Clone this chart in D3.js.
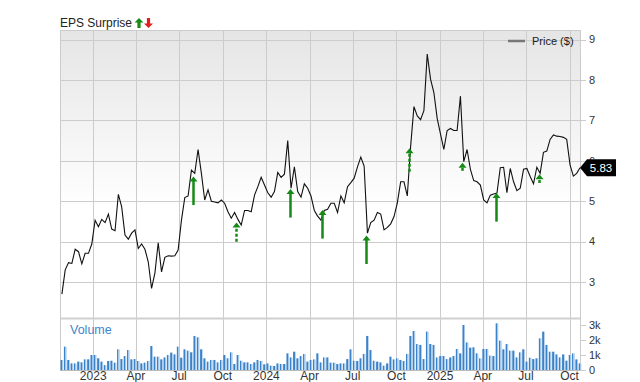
<!DOCTYPE html>
<html><head><meta charset="utf-8">
<script src="https://cdn.jsdelivr.net/npm/d3@7"></script>
<style>html,body{margin:0;padding:0;background:#fff}svg{display:block;font-family:"Liberation Sans",Arial,sans-serif}</style>
</head><body><svg id="c" width="640" height="382"></svg>
<script>
// ---- data ----
const startDate = "2022-10-27"; // first weekly observation
const prices = [
2.70,3.30,3.48,3.46,3.81,3.75,3.45,3.71,3.71,3.94,
4.53,4.37,4.55,4.47,4.68,4.31,4.27,5.17,4.86,4.16,
4.06,4.21,4.29,3.83,3.94,3.81,3.50,2.84,3.22,3.97,
3.25,3.61,3.65,3.64,3.65,3.79,4.53,5.09,5.13,5.77,
5.69,6.28,5.69,5.03,5.28,5.00,4.98,4.96,5.03,4.95,
4.74,4.58,
4.72,4.55,4.41,4.77,4.77,4.74,5.15,5.36,5.59,5.40,
5.21,5.10,5.24,5.71,5.59,5.67,6.50,5.32,5.85,5.24,
5.10,5.43,5.32,5.13,4.77,4.63,4.53,4.77,4.80,4.95,
4.95,4.72,5.13,4.96,5.36,5.46,5.57,5.85,6.09,5.87,
4.21,4.47,4.53,4.72,4.68,4.29,4.35,4.44,4.62,4.96,
5.48,5.48,
5.13,6.35,7.34,7.11,7.02,7.24,8.64,8.02,7.69,7.05,
6.66,6.28,6.75,6.80,6.75,6.75,7.60,5.98,6.28,5.79,
5.51,5.48,5.40,5.03,4.96,5.15,5.18,5.20,5.83,5.84,
5.21,5.81,5.48,5.26,5.32,5.79,5.81,5.61,5.43,5.84,
5.69,6.21,6.24,6.53,6.64,6.61,6.60,6.58,6.53,5.90,
5.62,5.69,5.83];
const volumesK = [
0.67,1.56,0.67,0.44,0.44,0.56,0.51,0.71,0.71,1.0,
1.0,0.78,0.56,0.33,0.6,0.62,0.49,1.38,0.73,0.93,
1.33,0.71,0.73,0.6,0.44,0.49,0.6,1.6,0.89,0.89,
0.71,0.84,1.0,1.16,1.04,1.56,0.82,1.38,1.29,1.18,
2.27,2.18,1.38,0.78,0.56,0.67,0.67,0.51,0.67,1.0,
0.78,1.18,
0.4,1.0,0.62,0.51,0.51,0.4,0.51,0.67,0.6,0.38,
0.44,0.29,0.27,0.44,0.4,0.4,1.11,0.84,1.22,0.78,
0.93,1.07,0.56,0.67,0.71,1.11,0.51,0.84,0.84,0.49,
0.49,0.4,0.44,0.44,0.73,1.38,0.62,0.6,0.78,1.07,
2.27,1.33,0.62,0.56,0.51,0.29,0.44,0.89,0.71,0.78,
0.67,0.6,
1.07,2.27,2.6,1.73,1.67,0.73,2.56,1.73,1.67,0.84,
0.93,0.93,0.73,0.84,0.93,1.4,1.11,3.0,1.84,1.49,
1.51,1.11,0.78,1.4,1.4,0.96,0.93,3.11,1.96,1.38,
1.73,1.29,1.29,0.84,1.18,1.38,0.56,0.82,0.73,0.78,
2.11,2.56,1.67,1.22,1.22,1.04,0.84,1.04,0.62,1.0,
1.11,0.71,0.44];
const epsDates = ["2023-07-31","2023-10-29","2024-02-19","2024-04-28","2024-07-28","2024-10-27","2025-02-17","2025-04-28","2025-07-28"];
const epsTipPrice = [5.61,4.47,5.30,4.78,4.15,6.31,5.95,5.20,5.67];
const epsSurprise = [100,67,100,100,100,82,28,100,31];
const priceTicks = [3,4,5,6,7,8,9];
const volumeTicks = [0,1,2,3];
const volumeTickLabels = ["0","1k","2k","3k"];
const lastPriceLabel = "5.83";

// ---- layout ----
const L=60, R=580, T=30, PB=318, VB=370, VT=318;
const svg = d3.select("#c");
const parse = d3.timeParse("%Y-%m-%d");
const d0 = parse(startDate);
const dates = prices.map((_,i)=>d3.timeDay.offset(d0, 7*i));
const x = d3.scaleTime().domain([parse("2022-10-23"), parse("2025-10-23")]).range([L,R]);
const yP = d3.scaleLinear().domain([3,9]).range([282,39.6]);
const yV = d3.scaleLinear().domain([0,3]).range([VB,325]);
const sLen = d3.scaleLinear().domain([0,100]).range([0,28.5]);

const defs = svg.append("defs");
const g = defs.append("linearGradient").attr("id","bg").attr("x1",0).attr("x2",0).attr("y1",0).attr("y2",1);
g.append("stop").attr("offset","0%").attr("stop-color","#e5e5e5");
g.append("stop").attr("offset","62%").attr("stop-color","#ffffff");
g.append("stop").attr("offset","100%").attr("stop-color","#ffffff");
const bg = defs.append("linearGradient").attr("id","bar").attr("x1",0).attr("x2",1).attr("y1",0).attr("y2",0);
bg.append("stop").attr("offset","0%").attr("stop-color","#3c82c8");
bg.append("stop").attr("offset","55%").attr("stop-color","#3c82c8");
bg.append("stop").attr("offset","55%").attr("stop-color","#a3c8ec");
bg.append("stop").attr("offset","100%").attr("stop-color","#a3c8ec");

svg.append("rect").attr("x",L).attr("y",T).attr("width",R-L).attr("height",PB-T).attr("fill","url(#bg)");

// vertical grid
const months = x.ticks(d3.timeMonth.every(3));
svg.append("g").selectAll("line").data(months).join("line")
  .attr("x1",d=>Math.round(x(d))+0.5).attr("x2",d=>Math.round(x(d))+0.5)
  .attr("y1",T).attr("y2",VB).attr("stroke","#cccccc");
// horizontal price grid + ticks
svg.append("g").selectAll("line").data(priceTicks).join("line")
  .attr("x1",L).attr("x2",R+6).attr("y1",d=>Math.round(yP(d))+0.5).attr("y2",d=>Math.round(yP(d))+0.5)
  .attr("stroke","#cccccc");
svg.append("g").selectAll("text").data(priceTicks).join("text")
  .attr("x",R+9).attr("y",d=>yP(d)).attr("dy","0.35em").attr("font-size",11).attr("fill","#333")
  .text(d=>d);
// volume ticks
svg.append("g").selectAll("line").data(volumeTicks).join("line")
  .attr("x1",R).attr("x2",R+6).attr("y1",d=>Math.round(yV(d))+0.5).attr("y2",d=>Math.round(yV(d))+0.5)
  .attr("stroke","#cccccc");
svg.append("g").selectAll("text").data(volumeTicks).join("text")
  .attr("x",R+9).attr("y",d=>yV(d)).attr("dy","0.35em").attr("font-size",11).attr("fill","#333")
  .text((d,i)=>volumeTickLabels[i]);

// top strip & borders
svg.append("line").attr("x1",L).attr("x2",R).attr("y1",T+0.5).attr("y2",T+0.5).attr("stroke","#cccccc");
svg.append("line").attr("x1",L).attr("x2",R).attr("y1",VT+0.5).attr("y2",VT+0.5).attr("stroke","#d0d0d0").attr("stroke-width",2);
svg.append("line").attr("x1",L).attr("x2",R).attr("y1",VB+0.5).attr("y2",VB+0.5).attr("stroke","#bbbbbb");
svg.append("line").attr("x1",L+0.5).attr("x2",L+0.5).attr("y1",T).attr("y2",VB).attr("stroke","#cccccc");
svg.append("line").attr("x1",R+0.5).attr("x2",R+0.5).attr("y1",T).attr("y2",VB).attr("stroke","#cccccc");

// volume bars
svg.append("g").selectAll("rect").data(volumesK).join("rect")
  .attr("x",(d,i)=>x(dates[i])-1.3).attr("width",2.6)
  .attr("y",d=>yV(d)).attr("height",d=>VB-yV(d)).attr("fill","url(#bar)");

svg.append("text").attr("x",70).attr("y",334).attr("font-size",12.5).attr("fill","#3d86cc").text("Volume");

// price line
svg.append("path").datum(prices)
  .attr("d", d3.line().x((d,i)=>x(dates[i])).y(d=>yP(d)))
  .attr("fill","none").attr("stroke","#111").attr("stroke-width",1.1);

// EPS arrows
const eg = svg.append("g");
epsDates.forEach((ds,i)=>{
  const cx = Math.round(x(parse(ds)))+0.5;
  const tip = yP(epsTipPrice[i]);
  const base = tip + sLen(epsSurprise[i]);
  const dashed = epsSurprise[i] < 100;
  eg.append("line").attr("x1",cx).attr("x2",cx).attr("y1",base).attr("y2",tip+4)
    .attr("stroke","#168a16").attr("stroke-width",2.5)
    .attr("stroke-dasharray", dashed ? "3,2" : null);
  eg.append("path").attr("d",`M${cx-4},${tip+5}L${cx+4},${tip+5}L${cx},${tip}Z`).attr("fill","#168a16");
});

// x axis labels
svg.append("g").selectAll("text").data(months).join("text")
  .attr("x",d=>x(d)).attr("y",380).attr("text-anchor","middle").attr("font-size",12).attr("fill","#333")
  .text(d=>d.getMonth()===0 ? d3.timeFormat("%Y")(d) : d3.timeFormat("%b")(d));

// last price box
const ly = yP(prices[prices.length-1]);
svg.append("path").attr("d",`M${R},${ly}L${R+7},${ly-8.5}L${R+36},${ly-8.5}L${R+36},${ly+8.5}L${R+7},${ly+8.5}Z`).attr("fill","#000");
svg.append("text").attr("x",R+21).attr("y",ly).attr("dy","0.36em").attr("text-anchor","middle")
  .attr("font-size",11.5).attr("fill","#fff").text(lastPriceLabel);

// legend
svg.append("line").attr("x1",508).attr("x2",525).attr("y1",41).attr("y2",41).attr("stroke","#777").attr("stroke-width",2.5);
svg.append("text").attr("x",532).attr("y",41).attr("dy","0.35em").attr("font-size",11).attr("fill","#222").text("Price ($)");

// title
svg.append("text").attr("x",60).attr("y",26.5).attr("font-size",12).attr("fill","#222").text("EPS Surprise");
svg.append("path").attr("d","M139,18L143.5,22.5L140.6,22.5L140.6,28L137.4,28L137.4,22.5L134.5,22.5Z").attr("fill","#168a16");
svg.append("path").attr("d","M148.5,28L153,23.5L150.1,23.5L150.1,18L146.9,18L146.9,23.5L144,23.5Z").attr("fill","#e02020");
</script></body></html>
